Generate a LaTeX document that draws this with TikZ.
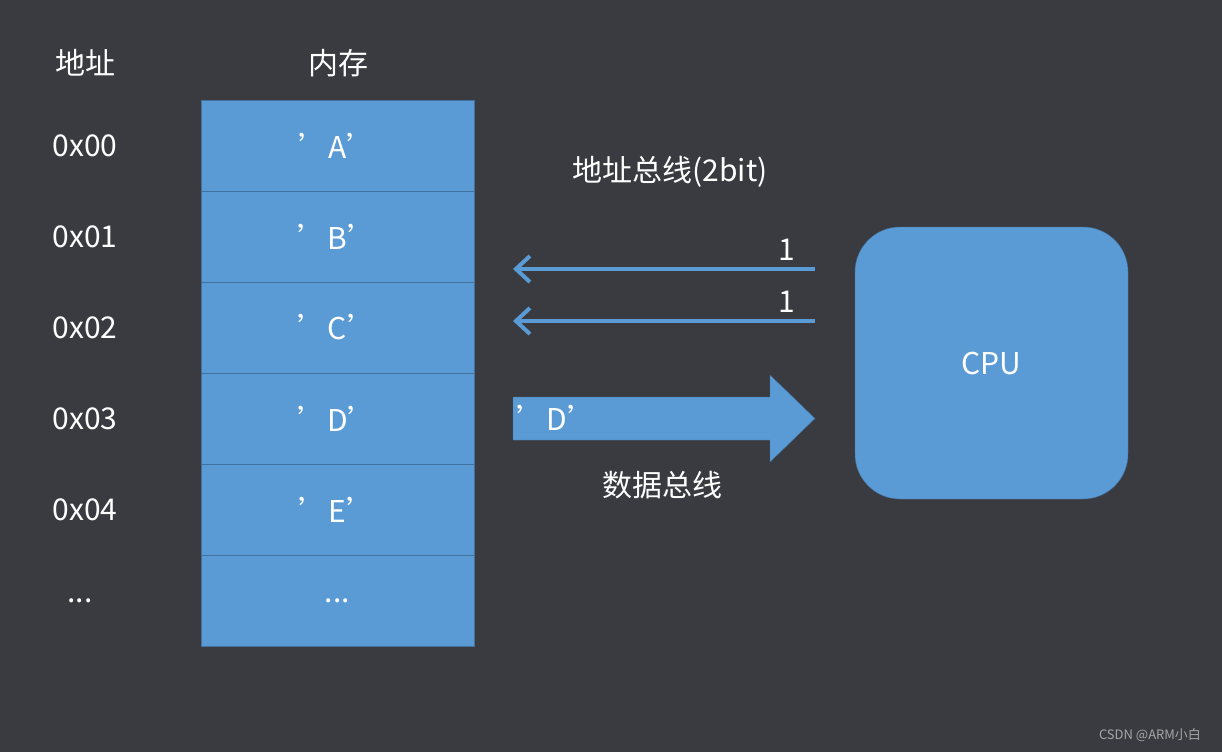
\documentclass[tikz,border=0pt]{standalone}
\usepackage{fontspec}
\setmainfont{Noto Sans CJK SC}
\usetikzlibrary{arrows.meta,shapes.arrows}
\definecolor{bg}{HTML}{3A3B40}
\definecolor{cellfill}{HTML}{5B9BD5}
\definecolor{celledge}{HTML}{41719C}
\tikzset{
  cell/.style={draw=celledge, fill=cellfill, minimum width=273pt, minimum height=91pt, inner sep=0pt, text=white, font=\fontsize{30}{30}\selectfont},
  lbl/.style={text=white, font=\fontsize{30}{30}\selectfont},
  bus/.style={draw=cellfill, line width=4pt, -{Straight Barb[length=14pt,width=26pt,line width=4pt]}}
}
\begin{document}
\begin{tikzpicture}[x=1pt,y=-1pt]
\fill[bg] (0,0) rectangle (1222,752);
\useasboundingbox (0,0) rectangle (1222,752);

% headers
\node[lbl] (haddr) at (85,63) {地址};
\node[lbl] (hmem) at (338,63) {内存};

% memory cells
\foreach \i/\a/\v in {0/0x00/'A',1/0x01/'B',2/0x02/'C',3/0x03/'D',4/0x04/'E'} {
  \node[cell] (m\i) at (337.5,145.5+91*\i) {\v};
  \node[lbl] (a\i) at (85,145.5+91*\i) {\a};
}
\node[cell] (m5) at (337.5,600.5) {...};
\node[lbl] (a5) at (80,600.5) {...};

% CPU
\node[draw=celledge, fill=cellfill, rounded corners=45pt, minimum width=273pt, minimum height=272pt, text=white, font=\fontsize{30}{30}\selectfont] (cpu) at (991.5,363) {CPU};

% address bus
\node[lbl] (abus) at (670,172) {地址总线(2bit)};
\coordinate (s1) at (815,269); \coordinate (e1) at (513,269);
\coordinate (s2) at (815,321); \coordinate (e2) at (513,321);
\draw[bus] (s1) -- (e1);
\draw[bus] (s2) -- (e2);
\node[lbl] (b1) at (787,250) {1};
\node[lbl] (b2) at (787,302) {1};

% data bus
\draw[draw=celledge, fill=cellfill] (513,397) -- (770,397) -- (770,375) -- (815,418.5) -- (770,462) -- (770,440) -- (513,440) -- cycle;
\node[lbl] (dval) at (557,418) {'D'};
\node[lbl] (dbus) at (662,485) {数据总线};

\node[text=gray!70, font=\fontsize{13}{13}\selectfont] (wm) at (1150,735) {CSDN @ARM小白};
\end{tikzpicture}
\end{document}
